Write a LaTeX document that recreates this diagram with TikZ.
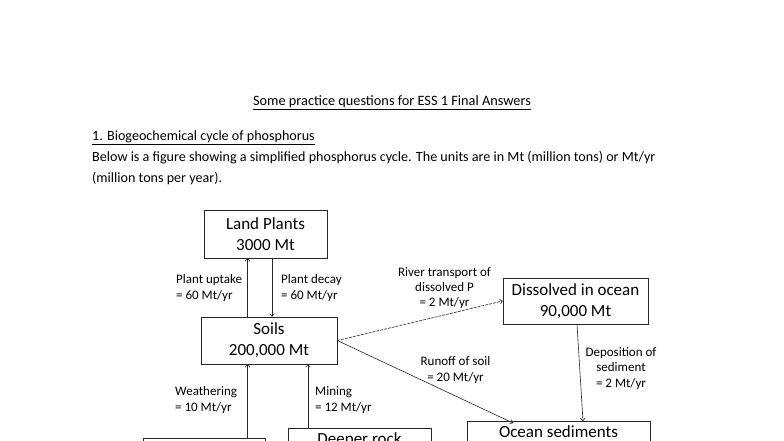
\documentclass[tikz,border=0pt]{standalone}
\usepackage{fontspec}
\setmainfont{Carlito}
\usetikzlibrary{arrows.meta}
\begin{document}
\begin{tikzpicture}[x=1pt,y=-1pt,
  box/.style={draw=black!85, line width=0.7pt, align=center, inner sep=0pt, font=\fontsize{17}{21}\selectfont},
  lab/.style={inner sep=0pt, font=\fontsize{13}{15.3}\selectfont},
  body/.style={inner sep=0pt, anchor=west, font=\fontsize{14.1}{16}\selectfont},
  arr/.style={-{To[length=3pt,width=5pt]}, line width=0.6pt, black!85},
]
\useasboundingbox (0,0) rectangle (784,441);
\clip (0,0) rectangle (784,441);
% header
\node[inner sep=0pt, font=\fontsize{14.3}{16}\selectfont] (title) at (392,103) {\underline{Some practice questions for ESS 1 Final Answers}};
\node[body] (q1) at (92,138) {\underline{1. Biogeochemical cycle of phosphorus}};
\node[body] (b1) at (92,158) {Below is a figure showing a simplified phosphorus cycle. The units are in Mt (million tons) or Mt/yr};
\node[body] (b2) at (92,178) {(million tons per year).};
% boxes
\node[box, minimum width=123, minimum height=48] (lp) at (265.5,234) {Land Plants\\3000 Mt};
\node[box, minimum width=136, minimum height=47] (soils) at (269,340.5) {Soils\\200,000 Mt};
\node[box, minimum width=145, minimum height=46] (ocean) at (575.5,301) {Dissolved in ocean\\90,000 Mt};
\node[box, anchor=north, minimum width=183, minimum height=48] (sed) at (558.5,421) {Ocean sediments\\\strut};
\node[box, anchor=north, minimum width=143, minimum height=48] (rock2) at (359.5,428) {Deeper rock\\\strut};
\node[box, anchor=north, minimum width=122, minimum height=48] (rock1) at (204,438) {};
% arrow x positions
\coordinate (ax1) at (247.5,0);
\coordinate (ax2) at (272,0);
\coordinate (ax3) at (308,0);
\coordinate (rx) at (513,0);
% arrows
\draw[arr] (soils.north -| ax1) -- (lp.south -| ax1);
\draw[arr] (lp.south -| ax2) -- (soils.north -| ax2);
\draw[arr] (rock1.north -| ax1) -- (soils.south -| ax1);
\draw[arr] (rock2.north -| ax3) -- (soils.south -| ax3);
\draw[arr, dash pattern=on 3pt off 1pt] (soils.east) -- (ocean.west);
\draw[arr] (soils.east) -- ([yshift=-2pt]sed.north -| rx);
\draw[arr] ([xshift=1.5pt]ocean.south) -- ([xshift=24.5pt]sed.north);
% labels
\node[lab, anchor=west, align=left] (lup) at (176,288) {Plant uptake\\= 60 Mt/yr};
\node[lab, anchor=west, align=left] (ldec) at (281,288) {Plant decay\\= 60 Mt/yr};
\node[lab, align=center] (lriv) at (444.5,288) {River transport of\\dissolved P\\= 2 Mt/yr};
\node[lab, align=center] (lrun) at (455.5,370) {Runoff of soil\\= 20 Mt/yr};
\node[lab, anchor=west, align=left] (lwea) at (175,400) {Weathering\\= 10 Mt/yr};
\node[lab, anchor=west, align=left] (lmin) at (315,400) {Mining\\= 12 Mt/yr};
\node[lab, align=center] (ldep) at (621,368.5) {Deposition of\\sediment\\= 2 Mt/yr};
\end{tikzpicture}
\end{document}
